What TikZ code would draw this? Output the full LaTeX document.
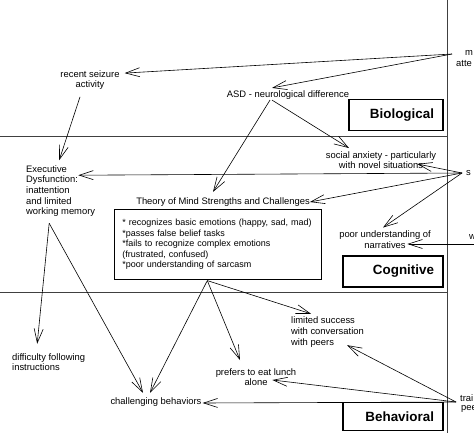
\documentclass[tikz,border=0pt]{standalone}
\usepackage{fontspec}
\setmainfont{Liberation Sans}
\usetikzlibrary{arrows.meta}

\begin{document}
\begin{tikzpicture}
  [x=1pt,y=-1pt,
   every node/.style={font=\fontsize{9.4}{10.6}\selectfont,inner sep=0pt,align=center},
   lefttext/.style={align=left,anchor=west},
   domain/.style={draw,line width=1.3pt,inner xsep=9pt,text width=#1,align=right,font=\fontsize{13.4}{15}\selectfont\bfseries},
   link/.style={-{Straight Barb[length=14pt,width=9pt]},line width=0.6pt},
   frame/.style={draw=black!75,line width=0.8pt}]

  \useasboundingbox (0,0) rectangle (474,433);
  \clip (0,0) rectangle (474,433);

  % level separators
  \draw[frame] (0,136) -- (447,136);
  \draw[frame] (0,292) -- (447,292);
  \draw[frame] (447,0) -- (447,433);

  % domain labels
  \node[domain=76pt,minimum height=31pt] (bio) at (396,115) {Biological};
  \node[domain=82pt,minimum height=31pt] (cog) at (393,271.5) {Cognitive};
  \node[domain=82pt,minimum height=28pt] (beh) at (393,416.5) {Behavioral};

  % cut-off texts at the right edge
  \node[anchor=west] (fragm)  at (465,53)  {m};
  \node[anchor=west] (fragat) at (456,64)  {atte};
  \node[anchor=west] (frags)  at (466,173) {s};
  \node[anchor=west] (fragw)  at (469,237) {w};
  \node[anchor=west] (fragtr) at (460,398) {trai};
  \node[anchor=west] (fragpe) at (461,409) {pee};
  \coordinate (srcbio) at (452,54);
  \coordinate (srcsoc) at (462,173);
  \coordinate (srcw)   at (474,244);
  \coordinate (srcbeh) at (456,402);

  % biological
  \node (seizure) at (90,80)  {recent seizure\\activity};
  \node (asd)     at (288,95) {ASD - neurological difference};

  % cognitive
  \node (social)  at (381,160) {social anxiety - particularly\\with novel situations};
  \node[lefttext] (exec) at (26,191) {Executive\\Dysfunction:\\inattention\\and limited\\working memory};
  \node (tom)     at (223,202) {Theory of Mind Strengths and Challenges};
  \node[draw,align=left,text width=199pt,inner xsep=4pt,minimum height=70pt,anchor=north west,line width=0.6pt,
        font=\fontsize{9}{10.6}\selectfont]
    (tombox) at (114,209) {\hspace*{4pt}* recognizes basic emotions (happy, sad, mad)\\{}\hspace*{4pt}*passes false belief tasks\\{}\hspace*{4pt}*fails to recognize complex emotions\\{}\hspace*{4pt}(frustrated, confused)\\{}\hspace*{4pt}*poor understanding of sarcasm};
  \node (narr)    at (385,239.5) {poor understanding of\\narratives};

  % behavioral
  \node[lefttext] (limited) at (291,332) {limited success\\with conversation\\with peers};
  \node[lefttext] (diff)    at (12,362)  {difficulty following\\instructions};
  \node (lunch)   at (256,377) {prefers to eat lunch\\alone};
  \node (chall)   at (156,402) {challenging behaviors};

  % connectors
  \draw[link] (srcbio) -- ([shift={(5,3)}]seizure.north east);
  \draw[link] (srcbio) -- ([shift={(-16,-2.5)}]asd.north);
  \draw[link] ([shift={(-10,7)}]seizure.south) -- ([shift={(-1.5,-5)}]exec.north);
  \draw[link] ([shift={(-18,0.5)}]asd.south) -- ([shift={(-10,-5.5)}]tom.north);
  \draw[link] ([shift={(-16,0.5)}]asd.south) -- ([shift={(-32,-3)}]social.north);

  \draw[link] (srcsoc) -- ([shift={(-19,4)}]social.east);
  \draw[link] (srcsoc) -- ([shift={(-17,10)}]exec.north east);
  \draw[link] (srcsoc) -- (tom.east);
  \draw[link] (srcsoc) -- ([shift={(-2,-3)}]narr.north);
  \draw[link] (srcw)   -- ([shift={(-23.5,4.5)}]narr.east);

  \draw[link] ([shift={(-11.5,6.5)}]exec.south) -- ([shift={(-11.5,-9.3)}]diff.north);
  \draw[link] ([shift={(-11.5,6.5)}]exec.south) -- ([shift={(-13,-4.5)}]chall.north);
  \draw[link] ([shift={(-10.5,1)}]tombox.south) -- ([shift={(-6,-4.5)}]chall.north);
  \draw[link] ([shift={(-10.5,1)}]tombox.south) -- ([shift={(-16,-8)}]lunch.north);
  \draw[link] ([shift={(-10.5,1)}]tombox.south) -- ([shift={(-16.5,-3)}]limited.north);

  \draw[link] (srcbeh) -- ([shift={(1,1)}]chall.east);
  \draw[link] (srcbeh) -- ([shift={(-24,3)}]lunch.east);
  \draw[link] (srcbeh) -- ([shift={(19.5,-2)}]limited.south);

\end{tikzpicture}
\end{document}
